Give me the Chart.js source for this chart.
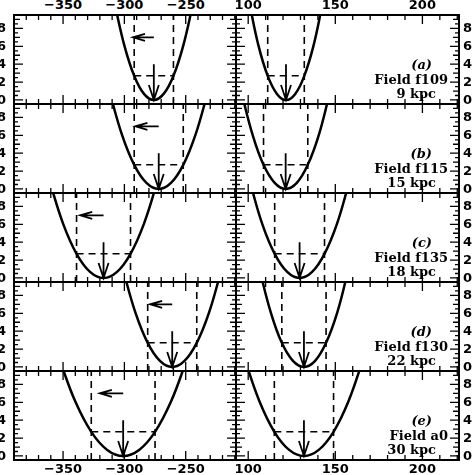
<!DOCTYPE html>
<html><head><meta charset="utf-8">
<script src="https://cdn.jsdelivr.net/npm/chart.js@4"></script>
<style>
body{margin:0;width:474px;height:475px;position:relative;background:#fff;overflow:hidden;font-family:"DejaVu Sans",sans-serif;font-weight:bold}
canvas{position:absolute}
.t{position:absolute;font-size:13px;color:#000;white-space:nowrap}
</style></head><body>
<script>
const yVals=[10.8,6.08,2.7,0.68,0,0.68,2.7,6.08,10.8];
const leftX=[
[-308,-300,-292,-284,-276,-268,-260,-252,-244],
[-312,-302,-292,-282,-272,-262,-252,-242,-232],
[-361,-350,-339,-328,-317,-306,-295,-284,-273],
[-301,-291,-281,-271,-261,-251,-241,-231,-221],
[-353,-340,-327,-314,-301,-288,-275,-262,-249]];
const rightX=[
[100.7,105.9,111.2,116.5,121.7,127,132.2,137.5,142.7],
[96.1,102.5,108.8,115.2,121.5,127.9,134.2,140.6,146.9],
[100.9,108,115.2,122.4,129.5,136.7,143.8,151,158.1],
[106.6,113,119.3,125.7,132,138.4,144.7,151.1,157.4],
[98,106.5,115,123.5,132,140.5,149,157.5,166]];
const arrowLeftHead=[-293,-291,-336,-279,-320];
const panelLetters=["a","b","c","d","e"];
const fieldNames=["Field f109","Field f115","Field f135","Field f130","Field a0"];
const distances=["9 kpc","15 kpc","18 kpc","22 kpc","30 kpc"];
const leftTicks=[-350,-300,-250];
const rightTicks=[100,150,200];
const yTicks=[0,2,4,6,8];
const levelY=2.7, arrowY=7, downTop=4;

const rowsTop=[15,104,193,282,371,460];
const cols=[{x0:14,x1:236,min:-390,max:-209,minor:10},{x0:236,x1:459,min:93,max:221,minor:10}];
const YMIN=-0.45,YMAX=9.5;

const deco={id:'deco',afterDatasetsDraw(ch){
  const o=ch.options.plugins.deco, c=ch.ctx, xs=ch.scales.x, ys=ch.scales.y, a=ch.chartArea;
  c.save();c.strokeStyle='#000';c.lineWidth=1.3;
  for(let v=Math.ceil(xs.min/o.minor)*o.minor;v<=xs.max;v+=o.minor){
    const px=xs.getPixelForValue(v), L=(v%50===0)?9:5;
    c.beginPath();c.moveTo(px,a.top);c.lineTo(px,a.top+L);c.moveTo(px,a.bottom);c.lineTo(px,a.bottom-L);c.stroke();}
  for(let v=0;v<=9;v+=0.5){
    const py=ys.getPixelForValue(v), L=(v%2===0)?9:(v%1===0?6:4);
    c.beginPath();c.moveTo(a.left,py);c.lineTo(a.left+L,py);c.moveTo(a.right,py);c.lineTo(a.right-L,py);c.stroke();}
  c.lineWidth=1.8;
  const cx=xs.getPixelForValue(o.center), y4=ys.getPixelForValue(downTop), y0=ys.getPixelForValue(0);
  c.beginPath();c.moveTo(cx,y4);c.lineTo(cx,y0);c.moveTo(cx-5,y0-15);c.lineTo(cx,y0);c.lineTo(cx+5,y0-15);c.stroke();
  if(o.head!==null){
    const ay=ys.getPixelForValue(arrowY), ax0=xs.getPixelForValue(o.center), ax1=xs.getPixelForValue(o.head);
    c.beginPath();c.moveTo(ax0,ay);c.lineTo(ax1,ay);c.moveTo(ax1+12,ay-3.5);c.lineTo(ax1,ay);c.lineTo(ax1+12,ay+3.5);c.stroke();}
  c.lineWidth=2;c.strokeRect(a.left,a.top,a.right-a.left,a.bottom-a.top);
  c.restore();}};

function mk(row,col){
  const C=cols[col], xs=col?rightX[row]:leftX[row];
  const lo=xs[2],hi=xs[6],cen=xs[4];
  const cv=document.createElement('canvas');
  const w=C.x1-C.x0+2,h=rowsTop[row+1]-rowsTop[row]+2;
  cv.width=w;cv.height=h;
  cv.style.left=(C.x0-1)+'px';cv.style.top=(rowsTop[row]-1)+'px';
  document.body.appendChild(cv);
  const dash=[7,5];
  new Chart(cv,{type:'line',data:{datasets:[
    {data:xs.map((x,i)=>({x,y:yVals[i]})),borderColor:'#000',borderWidth:2.5,tension:0.4,pointRadius:0},
    {data:[{x:lo,y:YMIN},{x:lo,y:YMAX}],borderColor:'#000',borderWidth:1.6,borderDash:dash,pointRadius:0},
    {data:[{x:hi,y:YMIN},{x:hi,y:YMAX}],borderColor:'#000',borderWidth:1.6,borderDash:dash,pointRadius:0},
    {data:[{x:lo,y:levelY},{x:hi,y:levelY}],borderColor:'#000',borderWidth:1.6,borderDash:dash,pointRadius:0}]},
   options:{responsive:false,animation:false,devicePixelRatio:1,layout:{padding:1},
    plugins:{legend:{display:false},tooltip:{enabled:false},deco:{center:cen,head:col?null:arrowLeftHead[row],minor:C.minor}},
    scales:{x:{type:'linear',min:C.min,max:C.max,display:false},y:{min:YMIN,max:YMAX,display:false}}},
   plugins:[deco]});
}
for(let r=0;r<5;r++)for(let c=0;c<2;c++)mk(r,c);

function txt(s,x,y,align,extra){const e=document.createElement('div');e.className='t';e.textContent=s;
  e.style.top=(y-8)+'px';
  if(align==='c'){e.style.left=(x-40)+'px';e.style.width='80px';e.style.textAlign='center';}
  else if(align==='r'){e.style.right=(474-x)+'px';}
  else e.style.left=x+'px';
  if(extra)e.style.cssText+=extra;document.body.appendChild(e);}
const fmt=v=>v<0?'\u2212'+(-v):''+v;
cols.forEach((C,ci)=>{(ci?rightTicks:leftTicks).forEach(v=>{
  const px=C.x0+(v-C.min)/(C.max-C.min)*(C.x1-C.x0);
  txt(fmt(v),px,5,'c');txt(fmt(v),px,469,'c');});});
for(let r=0;r<5;r++){
  yTicks.forEach(v=>{const py=rowsTop[r]+(YMAX-v)/(YMAX-YMIN)*(rowsTop[r+1]-rowsTop[r]);
    txt(''+v,-3,py,'l');txt(''+v,463,py,'l');});
  const base=rowsTop[r];
  txt('('+panelLetters[r]+')',432,base+50,'r',"font-family:'DejaVu Serif',serif;font-style:italic");
  txt(fieldNames[r],448,base+65,'r',"font-family:'DejaVu Serif',serif");
  txt(distances[r],436,base+79,'r',"font-family:'DejaVu Serif',serif");
}
</script></body></html>
